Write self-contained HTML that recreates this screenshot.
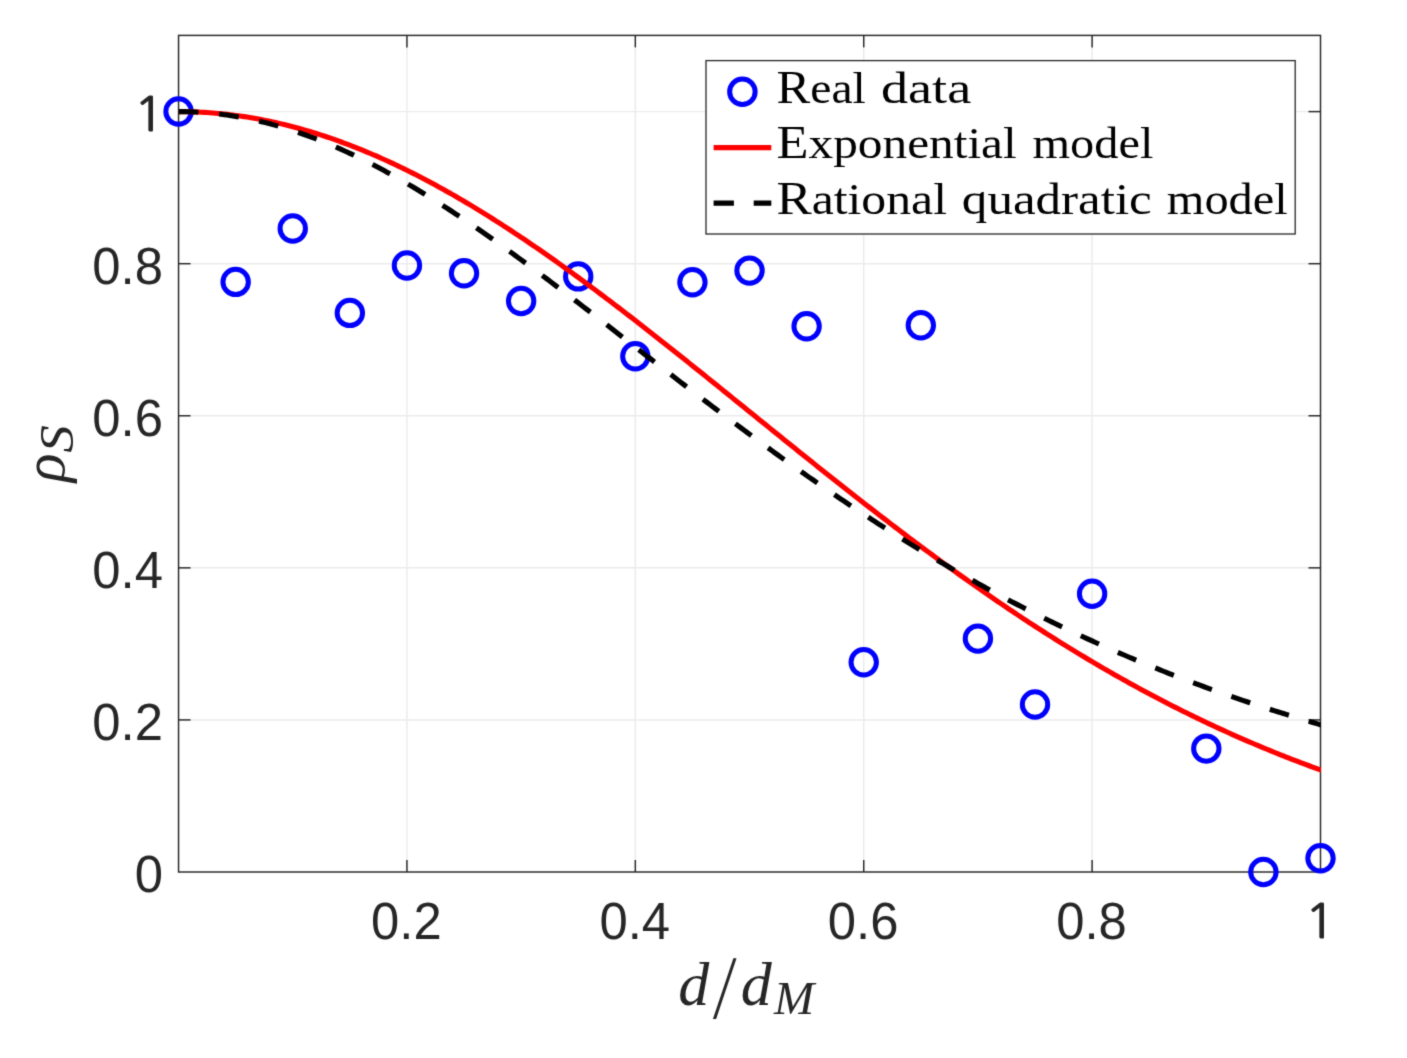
<!DOCTYPE html>
<html lang="en"><head><meta charset="utf-8"><title>Spatial correlation models</title>
<style>
html,body{margin:0;padding:0;background:#fff;}
body{width:1407px;height:1058px;overflow:hidden;}
svg{display:block;}
.tick{font-family:"Liberation Sans",Arial,Helvetica,sans-serif;font-size:51.5px;fill:#262626;}
.leg{font-family:"Liberation Serif","Times New Roman",serif;font-size:44.3px;fill:#000;}
.math{font-family:"Liberation Serif","Times New Roman",serif;font-style:italic;fill:#262626;}
</style></head><body>
<svg width="1407" height="1058" viewBox="0 0 1407 1058">
<defs><filter id="soft" x="0" y="0" width="1407" height="1058" filterUnits="userSpaceOnUse" color-interpolation-filters="sRGB"><feConvolveMatrix order="3" kernelMatrix="0.01960 0.10080 0.01960 0.10080 0.51840 0.10080 0.01960 0.10080 0.01960" divisor="1" edgeMode="duplicate" preserveAlpha="true"/></filter></defs>
<rect x="0" y="0" width="1407" height="1058" fill="#ffffff"/>
<g filter="url(#soft)">
<rect x="0" y="0" width="1407" height="1058" fill="#ffffff"/>

<g stroke="#ebebeb" stroke-width="1.45" fill="none">
<line x1="406.94" y1="35.4" x2="406.94" y2="872.0"/>
<line x1="635.33" y1="35.4" x2="635.33" y2="872.0"/>
<line x1="863.72" y1="35.4" x2="863.72" y2="872.0"/>
<line x1="1092.11" y1="35.4" x2="1092.11" y2="872.0"/>
<line x1="178.55" y1="719.92" x2="1320.5" y2="719.92"/>
<line x1="178.55" y1="567.84" x2="1320.5" y2="567.84"/>
<line x1="178.55" y1="415.76" x2="1320.5" y2="415.76"/>
<line x1="178.55" y1="263.68" x2="1320.5" y2="263.68"/>
<line x1="178.55" y1="111.60" x2="1320.5" y2="111.60"/>
</g>
<g stroke="#262626" stroke-width="1.45" fill="none">
<rect x="178.55" y="35.4" width="1141.95" height="836.60"/>
<line x1="406.94" y1="872.0" x2="406.94" y2="860.0"/>
<line x1="406.94" y1="35.4" x2="406.94" y2="47.4"/>
<line x1="635.33" y1="872.0" x2="635.33" y2="860.0"/>
<line x1="635.33" y1="35.4" x2="635.33" y2="47.4"/>
<line x1="863.72" y1="872.0" x2="863.72" y2="860.0"/>
<line x1="863.72" y1="35.4" x2="863.72" y2="47.4"/>
<line x1="1092.11" y1="872.0" x2="1092.11" y2="860.0"/>
<line x1="1092.11" y1="35.4" x2="1092.11" y2="47.4"/>
<line x1="178.55" y1="719.92" x2="190.55" y2="719.92"/>
<line x1="1320.5" y1="719.92" x2="1308.5" y2="719.92"/>
<line x1="178.55" y1="567.84" x2="190.55" y2="567.84"/>
<line x1="1320.5" y1="567.84" x2="1308.5" y2="567.84"/>
<line x1="178.55" y1="415.76" x2="190.55" y2="415.76"/>
<line x1="1320.5" y1="415.76" x2="1308.5" y2="415.76"/>
<line x1="178.55" y1="263.68" x2="190.55" y2="263.68"/>
<line x1="1320.5" y1="263.68" x2="1308.5" y2="263.68"/>
<line x1="178.55" y1="111.60" x2="190.55" y2="111.60"/>
<line x1="1320.5" y1="111.60" x2="1308.5" y2="111.60"/>
</g>
<g stroke="#0000ff" stroke-width="5" fill="none">
<circle cx="178.55" cy="111.5" r="12.7"/>
<circle cx="235.65" cy="281.9" r="12.7"/>
<circle cx="292.75" cy="228.5" r="12.7"/>
<circle cx="349.84" cy="312.9" r="12.7"/>
<circle cx="406.94" cy="265.5" r="12.7"/>
<circle cx="464.04" cy="273.2" r="12.7"/>
<circle cx="521.13" cy="301.0" r="12.7"/>
<circle cx="578.23" cy="276.4" r="12.7"/>
<circle cx="635.33" cy="356.2" r="12.7"/>
<circle cx="692.43" cy="282.3" r="12.7"/>
<circle cx="749.53" cy="270.6" r="12.7"/>
<circle cx="806.62" cy="326.3" r="12.7"/>
<circle cx="863.72" cy="662.3" r="12.7"/>
<circle cx="920.82" cy="325.3" r="12.7"/>
<circle cx="977.91" cy="638.6" r="12.7"/>
<circle cx="1035.01" cy="704.5" r="12.7"/>
<circle cx="1092.11" cy="593.8" r="12.7"/>
<circle cx="1206.31" cy="748.6" r="12.7"/>
<circle cx="1263.40" cy="872.0" r="12.7"/>
<circle cx="1320.50" cy="858.2" r="12.7"/>
</g>
<clipPath id="axclip"><rect x="178.55" y="35.4" width="1142.35" height="836.60"/></clipPath>
<g clip-path="url(#axclip)">
<path d="M178.55,111.60 L181.40,111.61 L184.26,111.64 L187.11,111.69 L189.97,111.75 L192.82,111.84 L195.68,111.94 L198.53,112.07 L201.39,112.21 L204.24,112.37 L207.10,112.55 L209.95,112.75 L212.81,112.97 L215.66,113.21 L218.52,113.47 L221.37,113.74 L224.23,114.04 L227.08,114.35 L229.94,114.69 L232.79,115.04 L235.65,115.41 L238.50,115.80 L241.36,116.20 L244.21,116.63 L247.07,117.08 L249.92,117.54 L252.78,118.02 L255.63,118.53 L258.49,119.05 L261.34,119.58 L264.20,120.14 L267.05,120.72 L269.91,121.31 L272.76,121.92 L275.62,122.55 L278.47,123.20 L281.33,123.87 L284.18,124.55 L287.04,125.26 L289.89,125.98 L292.75,126.72 L295.60,127.47 L298.45,128.25 L301.31,129.04 L304.16,129.85 L307.02,130.68 L309.87,131.53 L312.73,132.39 L315.58,133.27 L318.44,134.17 L321.29,135.09 L324.15,136.02 L327.00,136.97 L329.86,137.94 L332.71,138.92 L335.57,139.93 L338.42,140.95 L341.28,141.98 L344.13,143.03 L346.99,144.10 L349.84,145.19 L352.70,146.29 L355.55,147.41 L358.41,148.55 L361.26,149.70 L364.12,150.87 L366.97,152.05 L369.83,153.25 L372.68,154.47 L375.54,155.70 L378.39,156.95 L381.25,158.22 L384.10,159.50 L386.96,160.79 L389.81,162.10 L392.67,163.43 L395.52,164.77 L398.38,166.13 L401.23,167.50 L404.09,168.89 L406.94,170.29 L409.79,171.70 L412.65,173.13 L415.50,174.58 L418.36,176.04 L421.21,177.51 L424.07,179.00 L426.92,180.51 L429.78,182.02 L432.63,183.55 L435.49,185.10 L438.34,186.66 L441.20,188.23 L444.05,189.82 L446.91,191.41 L449.76,193.03 L452.62,194.65 L455.47,196.29 L458.33,197.94 L461.18,199.61 L464.04,201.28 L466.89,202.97 L469.75,204.68 L472.60,206.39 L475.46,208.12 L478.31,209.86 L481.17,211.61 L484.02,213.37 L486.88,215.15 L489.73,216.93 L492.59,218.73 L495.44,220.54 L498.30,222.36 L501.15,224.19 L504.01,226.04 L506.86,227.89 L509.72,229.75 L512.57,231.63 L515.43,233.51 L518.28,235.41 L521.13,237.32 L523.99,239.23 L526.84,241.16 L529.70,243.10 L532.55,245.04 L535.41,247.00 L538.26,248.97 L541.12,250.94 L543.97,252.93 L546.83,254.92 L549.68,256.92 L552.54,258.93 L555.39,260.95 L558.25,262.98 L561.10,265.02 L563.96,267.07 L566.81,269.12 L569.67,271.18 L572.52,273.25 L575.38,275.33 L578.23,277.41 L581.09,279.51 L583.94,281.61 L586.80,283.72 L589.65,285.83 L592.51,287.95 L595.36,290.08 L598.22,292.22 L601.07,294.36 L603.93,296.51 L606.78,298.67 L609.64,300.83 L612.49,302.99 L615.35,305.17 L618.20,307.35 L621.06,309.53 L623.91,311.72 L626.77,313.92 L629.62,316.12 L632.48,318.33 L635.33,320.54 L638.18,322.76 L641.04,324.98 L643.89,327.21 L646.75,329.44 L649.60,331.67 L652.46,333.91 L655.31,336.16 L658.17,338.41 L661.02,340.66 L663.88,342.91 L666.73,345.17 L669.59,347.44 L672.44,349.70 L675.30,351.97 L678.15,354.25 L681.01,356.52 L683.86,358.80 L686.72,361.08 L689.57,363.37 L692.43,365.65 L695.28,367.94 L698.14,370.23 L700.99,372.52 L703.85,374.82 L706.70,377.12 L709.56,379.42 L712.41,381.72 L715.27,384.02 L718.12,386.32 L720.98,388.63 L723.83,390.93 L726.69,393.24 L729.54,395.55 L732.40,397.86 L735.25,400.16 L738.11,402.47 L740.96,404.78 L743.82,407.09 L746.67,409.40 L749.53,411.72 L752.38,414.03 L755.23,416.34 L758.09,418.65 L760.94,420.96 L763.80,423.27 L766.65,425.57 L769.51,427.88 L772.36,430.19 L775.22,432.50 L778.07,434.80 L780.93,437.10 L783.78,439.41 L786.64,441.71 L789.49,444.01 L792.35,446.31 L795.20,448.60 L798.06,450.90 L800.91,453.19 L803.77,455.48 L806.62,457.77 L809.48,460.05 L812.33,462.34 L815.19,464.62 L818.04,466.90 L820.90,469.18 L823.75,471.45 L826.61,473.72 L829.46,475.99 L832.32,478.25 L835.17,480.51 L838.03,482.77 L840.88,485.03 L843.74,487.28 L846.59,489.53 L849.45,491.77 L852.30,494.01 L855.16,496.25 L858.01,498.48 L860.87,500.71 L863.72,502.94 L866.57,505.16 L869.43,507.38 L872.28,509.59 L875.14,511.80 L877.99,514.00 L880.85,516.20 L883.70,518.39 L886.56,520.58 L889.41,522.77 L892.27,524.95 L895.12,527.12 L897.98,529.30 L900.83,531.46 L903.69,533.62 L906.54,535.77 L909.40,537.92 L912.25,540.07 L915.11,542.21 L917.96,544.34 L920.82,546.47 L923.67,548.59 L926.53,550.70 L929.38,552.81 L932.24,554.92 L935.09,557.02 L937.95,559.11 L940.80,561.19 L943.66,563.27 L946.51,565.35 L949.37,567.42 L952.22,569.48 L955.08,571.53 L957.93,573.58 L960.79,575.62 L963.64,577.66 L966.50,579.68 L969.35,581.71 L972.21,583.72 L975.06,585.73 L977.92,587.73 L980.77,589.72 L983.62,591.71 L986.48,593.69 L989.33,595.67 L992.19,597.63 L995.04,599.59 L997.90,601.54 L1000.75,603.49 L1003.61,605.42 L1006.46,607.35 L1009.32,609.28 L1012.17,611.19 L1015.03,613.10 L1017.88,615.00 L1020.74,616.89 L1023.59,618.78 L1026.45,620.66 L1029.30,622.53 L1032.16,624.39 L1035.01,626.24 L1037.87,628.09 L1040.72,629.93 L1043.58,631.76 L1046.43,633.58 L1049.29,635.40 L1052.14,637.20 L1055.00,639.00 L1057.85,640.80 L1060.71,642.58 L1063.56,644.35 L1066.42,646.12 L1069.27,647.88 L1072.13,649.63 L1074.98,651.37 L1077.84,653.11 L1080.69,654.84 L1083.55,656.55 L1086.40,658.26 L1089.26,659.97 L1092.11,661.66 L1094.96,663.35 L1097.82,665.02 L1100.67,666.69 L1103.53,668.35 L1106.38,670.00 L1109.24,671.65 L1112.09,673.28 L1114.95,674.91 L1117.80,676.53 L1120.66,678.14 L1123.51,679.74 L1126.37,681.33 L1129.22,682.92 L1132.08,684.49 L1134.93,686.06 L1137.79,687.62 L1140.64,689.17 L1143.50,690.71 L1146.35,692.25 L1149.21,693.77 L1152.06,695.29 L1154.92,696.80 L1157.77,698.30 L1160.63,699.79 L1163.48,701.27 L1166.34,702.74 L1169.19,704.21 L1172.05,705.67 L1174.90,707.12 L1177.76,708.56 L1180.61,709.99 L1183.47,711.41 L1186.32,712.83 L1189.18,714.23 L1192.03,715.63 L1194.89,717.02 L1197.74,718.40 L1200.60,719.77 L1203.45,721.13 L1206.31,722.49 L1209.16,723.84 L1212.01,725.17 L1214.87,726.50 L1217.72,727.83 L1220.58,729.14 L1223.43,730.44 L1226.29,731.74 L1229.14,733.03 L1232.00,734.31 L1234.85,735.58 L1237.71,736.84 L1240.56,738.10 L1243.42,739.34 L1246.27,740.58 L1249.13,741.81 L1251.98,743.03 L1254.84,744.24 L1257.69,745.45 L1260.55,746.64 L1263.40,747.83 L1266.26,749.01 L1269.11,750.19 L1271.97,751.35 L1274.82,752.51 L1277.68,753.65 L1280.53,754.79 L1283.39,755.92 L1286.24,757.05 L1289.10,758.16 L1291.95,759.27 L1294.81,760.37 L1297.66,761.46 L1300.52,762.55 L1303.37,763.62 L1306.23,764.69 L1309.08,765.75 L1311.94,766.80 L1314.79,767.85 L1317.65,768.88 L1320.50,769.91 L1323.35,770.93 L1326.21,771.95 L1329.06,772.95 L1331.92,773.95" stroke="#ff0000" stroke-width="5.1" fill="none" stroke-linejoin="round"/>
<path d="M178.55,111.60 L181.40,111.61 L184.26,111.65 L187.11,111.71 L189.97,111.79 L192.82,111.90 L195.68,112.04 L198.53,112.19 L201.39,112.37 L204.24,112.58 L207.10,112.81 L209.95,113.06 L212.81,113.34 L215.66,113.64 L218.52,113.96 L221.37,114.31 L224.23,114.69 L227.08,115.08 L229.94,115.50 L232.79,115.95 L235.65,116.41 L238.50,116.90 L241.36,117.42 L244.21,117.96 L247.07,118.52 L249.92,119.10 L252.78,119.71 L255.63,120.34 L258.49,120.99 L261.34,121.67 L264.20,122.37 L267.05,123.09 L269.91,123.83 L272.76,124.60 L275.62,125.39 L278.47,126.20 L281.33,127.03 L284.18,127.89 L287.04,128.76 L289.89,129.66 L292.75,130.58 L295.60,131.52 L298.45,132.49 L301.31,133.47 L304.16,134.48 L307.02,135.50 L309.87,136.55 L312.73,137.62 L315.58,138.71 L318.44,139.82 L321.29,140.95 L324.15,142.10 L327.00,143.27 L329.86,144.46 L332.71,145.67 L335.57,146.90 L338.42,148.14 L341.28,149.41 L344.13,150.70 L346.99,152.00 L349.84,153.33 L352.70,154.67 L355.55,156.03 L358.41,157.41 L361.26,158.80 L364.12,160.22 L366.97,161.65 L369.83,163.10 L372.68,164.57 L375.54,166.05 L378.39,167.55 L381.25,169.07 L384.10,170.60 L386.96,172.15 L389.81,173.72 L392.67,175.30 L395.52,176.90 L398.38,178.52 L401.23,180.15 L404.09,181.79 L406.94,183.45 L409.79,185.12 L412.65,186.81 L415.50,188.52 L418.36,190.23 L421.21,191.96 L424.07,193.71 L426.92,195.47 L429.78,197.24 L432.63,199.03 L435.49,200.82 L438.34,202.63 L441.20,204.46 L444.05,206.29 L446.91,208.14 L449.76,210.00 L452.62,211.87 L455.47,213.76 L458.33,215.65 L461.18,217.56 L464.04,219.48 L466.89,221.40 L469.75,223.34 L472.60,225.29 L475.46,227.25 L478.31,229.22 L481.17,231.19 L484.02,233.18 L486.88,235.18 L489.73,237.19 L492.59,239.20 L495.44,241.22 L498.30,243.26 L501.15,245.30 L504.01,247.34 L506.86,249.40 L509.72,251.46 L512.57,253.54 L515.43,255.62 L518.28,257.70 L521.13,259.79 L523.99,261.89 L526.84,264.00 L529.70,266.11 L532.55,268.23 L535.41,270.35 L538.26,272.48 L541.12,274.62 L543.97,276.76 L546.83,278.91 L549.68,281.06 L552.54,283.21 L555.39,285.38 L558.25,287.54 L561.10,289.71 L563.96,291.88 L566.81,294.06 L569.67,296.24 L572.52,298.43 L575.38,300.61 L578.23,302.80 L581.09,305.00 L583.94,307.19 L586.80,309.39 L589.65,311.60 L592.51,313.80 L595.36,316.01 L598.22,318.21 L601.07,320.42 L603.93,322.64 L606.78,324.85 L609.64,327.06 L612.49,329.28 L615.35,331.50 L618.20,333.71 L621.06,335.93 L623.91,338.15 L626.77,340.37 L629.62,342.59 L632.48,344.81 L635.33,347.03 L638.18,349.25 L641.04,351.47 L643.89,353.69 L646.75,355.90 L649.60,358.12 L652.46,360.34 L655.31,362.55 L658.17,364.77 L661.02,366.98 L663.88,369.19 L666.73,371.40 L669.59,373.61 L672.44,375.81 L675.30,378.02 L678.15,380.22 L681.01,382.42 L683.86,384.62 L686.72,386.81 L689.57,389.00 L692.43,391.19 L695.28,393.38 L698.14,395.56 L700.99,397.75 L703.85,399.92 L706.70,402.10 L709.56,404.27 L712.41,406.44 L715.27,408.60 L718.12,410.76 L720.98,412.92 L723.83,415.07 L726.69,417.22 L729.54,419.37 L732.40,421.51 L735.25,423.65 L738.11,425.78 L740.96,427.91 L743.82,430.03 L746.67,432.15 L749.53,434.26 L752.38,436.37 L755.23,438.48 L758.09,440.58 L760.94,442.68 L763.80,444.77 L766.65,446.85 L769.51,448.93 L772.36,451.01 L775.22,453.07 L778.07,455.14 L780.93,457.20 L783.78,459.25 L786.64,461.30 L789.49,463.34 L792.35,465.37 L795.20,467.40 L798.06,469.43 L800.91,471.45 L803.77,473.46 L806.62,475.47 L809.48,477.47 L812.33,479.46 L815.19,481.45 L818.04,483.43 L820.90,485.41 L823.75,487.37 L826.61,489.34 L829.46,491.29 L832.32,493.24 L835.17,495.19 L838.03,497.12 L840.88,499.05 L843.74,500.98 L846.59,502.89 L849.45,504.80 L852.30,506.71 L855.16,508.60 L858.01,510.49 L860.87,512.38 L863.72,514.25 L866.57,516.12 L869.43,517.99 L872.28,519.84 L875.14,521.69 L877.99,523.53 L880.85,525.37 L883.70,527.19 L886.56,529.01 L889.41,530.83 L892.27,532.63 L895.12,534.43 L897.98,536.22 L900.83,538.01 L903.69,539.78 L906.54,541.55 L909.40,543.32 L912.25,545.07 L915.11,546.82 L917.96,548.56 L920.82,550.30 L923.67,552.02 L926.53,553.74 L929.38,555.45 L932.24,557.16 L935.09,558.85 L937.95,560.54 L940.80,562.23 L943.66,563.90 L946.51,565.57 L949.37,567.23 L952.22,568.88 L955.08,570.53 L957.93,572.17 L960.79,573.80 L963.64,575.42 L966.50,577.04 L969.35,578.65 L972.21,580.25 L975.06,581.84 L977.92,583.43 L980.77,585.01 L983.62,586.58 L986.48,588.14 L989.33,589.70 L992.19,591.25 L995.04,592.79 L997.90,594.33 L1000.75,595.85 L1003.61,597.38 L1006.46,598.89 L1009.32,600.39 L1012.17,601.89 L1015.03,603.38 L1017.88,604.87 L1020.74,606.34 L1023.59,607.81 L1026.45,609.28 L1029.30,610.73 L1032.16,612.18 L1035.01,613.62 L1037.87,615.05 L1040.72,616.48 L1043.58,617.90 L1046.43,619.31 L1049.29,620.71 L1052.14,622.11 L1055.00,623.50 L1057.85,624.88 L1060.71,626.26 L1063.56,627.63 L1066.42,628.99 L1069.27,630.35 L1072.13,631.70 L1074.98,633.04 L1077.84,634.37 L1080.69,635.70 L1083.55,637.02 L1086.40,638.33 L1089.26,639.64 L1092.11,640.94 L1094.96,642.23 L1097.82,643.52 L1100.67,644.80 L1103.53,646.07 L1106.38,647.33 L1109.24,648.59 L1112.09,649.84 L1114.95,651.09 L1117.80,652.33 L1120.66,653.56 L1123.51,654.78 L1126.37,656.00 L1129.22,657.22 L1132.08,658.42 L1134.93,659.62 L1137.79,660.81 L1140.64,662.00 L1143.50,663.18 L1146.35,664.35 L1149.21,665.52 L1152.06,666.68 L1154.92,667.83 L1157.77,668.98 L1160.63,670.12 L1163.48,671.25 L1166.34,672.38 L1169.19,673.51 L1172.05,674.62 L1174.90,675.73 L1177.76,676.83 L1180.61,677.93 L1183.47,679.02 L1186.32,680.11 L1189.18,681.19 L1192.03,682.26 L1194.89,683.33 L1197.74,684.39 L1200.60,685.44 L1203.45,686.49 L1206.31,687.54 L1209.16,688.57 L1212.01,689.60 L1214.87,690.63 L1217.72,691.65 L1220.58,692.66 L1223.43,693.67 L1226.29,694.67 L1229.14,695.67 L1232.00,696.66 L1234.85,697.65 L1237.71,698.62 L1240.56,699.60 L1243.42,700.57 L1246.27,701.53 L1249.13,702.49 L1251.98,703.44 L1254.84,704.38 L1257.69,705.33 L1260.55,706.26 L1263.40,707.19 L1266.26,708.12 L1269.11,709.03 L1271.97,709.95 L1274.82,710.86 L1277.68,711.76 L1280.53,712.66 L1283.39,713.55 L1286.24,714.44 L1289.10,715.32 L1291.95,716.20 L1294.81,717.07 L1297.66,717.94 L1300.52,718.80 L1303.37,719.66 L1306.23,720.51 L1309.08,721.35 L1311.94,722.20 L1314.79,723.03 L1317.65,723.87 L1320.50,724.69 L1323.35,725.51 L1326.21,726.33 L1329.06,727.14 L1331.92,727.95" stroke="#000000" stroke-width="5.1" fill="none" stroke-dasharray="19.9 20.7" stroke-linejoin="round"/>
</g>
<g class="tick" text-anchor="middle">
<text transform="translate(406.34,939.2) scale(0.987,1)">0.2</text>
<text transform="translate(634.73,939.2) scale(0.987,1)">0.4</text>
<text transform="translate(863.12,939.2) scale(0.987,1)">0.6</text>
<text transform="translate(1091.51,939.2) scale(0.987,1)">0.8</text>
</g>
<text transform="translate(1304.55,938.2) scale(1.1,1)" font-family="NanumGothic,'Liberation Sans',sans-serif" font-size="46.7" fill="#262626" stroke="#262626" stroke-width="0.9">1</text>
<text transform="translate(133.55,131.1) scale(1.1,1)" font-family="NanumGothic,'Liberation Sans',sans-serif" font-size="46.7" fill="#262626" stroke="#262626" stroke-width="0.9">1</text>
<g class="tick" text-anchor="end">
<text transform="translate(163,892.00) scale(0.987,1)">0</text>
<text transform="translate(163,739.92) scale(0.987,1)">0.2</text>
<text transform="translate(163,587.84) scale(0.987,1)">0.4</text>
<text transform="translate(163,435.76) scale(0.987,1)">0.6</text>
<text transform="translate(163,283.68) scale(0.987,1)">0.8</text>
</g>
<rect x="706" y="60.6" width="589.2" height="173.4" fill="#ffffff" stroke="#262626" stroke-width="1.3"/>
<circle cx="742.4" cy="91.75" r="12.75" stroke="#0000ff" stroke-width="5" fill="none"/>
<line x1="713.6" y1="147.7" x2="771.3" y2="147.7" stroke="#ff0000" stroke-width="5.2"/>
<line x1="713.6" y1="203.1" x2="771.3" y2="203.1" stroke="#000" stroke-width="5.2" stroke-dasharray="20.3 19.8"/>
<g class="leg">
<text transform="translate(776.54,102.7) scale(1.0763,1)"><tspan font-size="47.0">R</tspan>eal </text>
<text transform="translate(880.94,102.7) scale(1.2239,1)">data</text>
<text transform="translate(776.49,158.4) scale(1.1140,1)"><tspan font-size="47.0">E</tspan>xponential </text>
<text transform="translate(1032.48,158.4) scale(1.0917,1)">model</text>
<text transform="translate(776.48,214.1) scale(1.1226,1)"><tspan font-size="47.0">R</tspan>ational </text>
<text transform="translate(961.86,214.1) scale(1.1524,1)">quadratic </text>
<text transform="translate(1166.78,214.1) scale(1.0926,1)">model</text>
</g>
<g class="math">
<text x="678.2" y="1004.6" font-size="62">d</text>
<text transform="translate(713.1,1018.2) skewX(-5.1) scale(1,1.381)" font-size="65.6" font-style="normal">/</text>
<text x="740.8" y="1004.6" font-size="62">d</text>
<text transform="translate(774.1,1013.6) scale(1.06,1)" font-size="45.5">M</text>
</g>
<g class="math" transform="translate(63.5,483.7) rotate(-90)">
<text x="1.5" y="0" font-size="60">ρ</text>
<text transform="translate(31.0,9.1) scale(1.15,1)" font-size="48">S</text>
</g>
</g></svg></body></html>
